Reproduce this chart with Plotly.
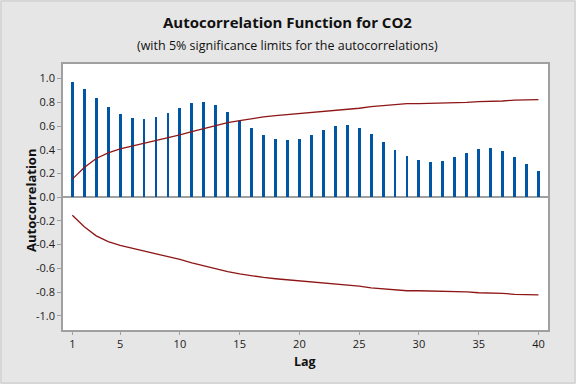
import plotly.graph_objects as go

lags = list(range(1, 41))
acf = [0.969, 0.910, 0.834, 0.758, 0.699, 0.666, 0.657, 0.674, 0.708, 0.750,
       0.792, 0.801, 0.775, 0.716, 0.640, 0.581, 0.522, 0.489, 0.480, 0.489,
       0.522, 0.565, 0.598, 0.607, 0.581, 0.531, 0.463, 0.396, 0.346, 0.312,
       0.295, 0.303, 0.337, 0.371, 0.404, 0.413, 0.388, 0.337, 0.278, 0.219]
limit = [0.152, 0.250, 0.326, 0.374, 0.407, 0.430, 0.458, 0.480, 0.500, 0.525,
         0.553, 0.579, 0.600, 0.628, 0.646, 0.663, 0.677, 0.688, 0.697, 0.706,
         0.713, 0.722, 0.730, 0.739, 0.750, 0.764, 0.772, 0.781, 0.789, 0.789,
         0.790, 0.797, 0.798, 0.799, 0.806, 0.807, 0.811, 0.819, 0.821, 0.823]
lower = [-v for v in limit]

x_ticks = [1, 5, 10, 15, 20, 25, 30, 35, 40]
y_ticks = [-1.0, -0.8, -0.6, -0.4, -0.2, 0.0, 0.2, 0.4, 0.6, 0.8, 1.0]
y_ticktext = ["-1.0", "-0.8", "-0.6", "-0.4", "-0.2", "0.0", "0.2", "0.4", "0.6", "0.8", "1.0"]

FONT = "Open Sans"
BLUE = "#0055A5"
RED = "#8E1616"
GRID = "#A0A0A0"

PW, PH = 485, 266  # plot area size in px
L, T = 63, 64

def px_x(x):
    return (x - L) / PW

def px_y(y):
    return 1 - (y - T) / PH

fig = go.Figure()
fig.add_trace(go.Bar(x=lags, y=acf, width=0.24, marker=dict(color=BLUE, line=dict(width=0)),
                     showlegend=False, hoverinfo="x+y"))
fig.add_trace(go.Scatter(x=lags, y=limit, mode="lines", line=dict(color=RED, width=1.3),
                         showlegend=False))
fig.add_trace(go.Scatter(x=lags, y=lower, mode="lines", line=dict(color=RED, width=1.3),
                         showlegend=False))

fig.update_layout(
    width=576, height=384,
    margin=dict(l=L, r=576 - L - PW, t=T, b=384 - T - PH, autoexpand=False),
    paper_bgcolor="#E6E6E6",
    plot_bgcolor="white",
    font=dict(family=FONT, color="#1a1a1a", size=11),
    bargap=0,
    annotations=[
        dict(text="<b>Autocorrelation Function for CO2</b>", xref="paper", yref="paper",
             x=px_x(287), y=px_y(22), xanchor="center", yanchor="middle", showarrow=False,
             font=dict(family=FONT, size=15, color="#111111")),
        dict(text="(with 5% significance limits for the autocorrelations)", xref="paper",
             yref="paper", x=px_x(287), y=px_y(45), xanchor="center", yanchor="middle",
             showarrow=False, font=dict(family=FONT, size=12.5, color="#111111")),
        dict(text="<b>Lag</b>", xref="paper", yref="paper", x=px_x(305), y=px_y(361),
             xanchor="center", yanchor="middle", showarrow=False,
             font=dict(family=FONT, size=12.5, color="#111111")),
        dict(text="<b>Autocorrelation</b>", xref="paper", yref="paper", x=px_x(31), y=px_y(201),
             xanchor="center", yanchor="middle", showarrow=False, textangle=-90,
             font=dict(family=FONT, size=13, color="#111111")),
    ],
    shapes=[
        dict(type="rect", xref="paper", yref="paper", x0=px_x(1), x1=px_x(575),
             y0=px_y(383), y1=px_y(1), line=dict(color="#C8C8C8", width=1),
             fillcolor="rgba(0,0,0,0)", layer="below"),
    ],
)
fig.update_xaxes(
    range=[0.22, 40.8], tickvals=x_ticks, ticks="outside", ticklen=3, tickcolor=GRID,
    showline=True, linecolor=GRID, linewidth=1.5, mirror=True, showgrid=False, zeroline=False,
    tickfont=dict(size=11), automargin=False,
)
fig.update_yaxes(
    range=[-1.12, 1.123], tickvals=y_ticks, ticktext=y_ticktext, ticks="outside", ticklen=4,
    tickcolor=GRID, showline=True, linecolor=GRID, linewidth=1.5, mirror=True, showgrid=False,
    zeroline=True, zerolinecolor=GRID, zerolinewidth=1.5, tickfont=dict(size=11),
    automargin=False,
)

fig.write_html("out.html", config={"displayModeBar": False},
               post_script="document.body.style.margin='0';document.body.style.overflow='hidden';")
